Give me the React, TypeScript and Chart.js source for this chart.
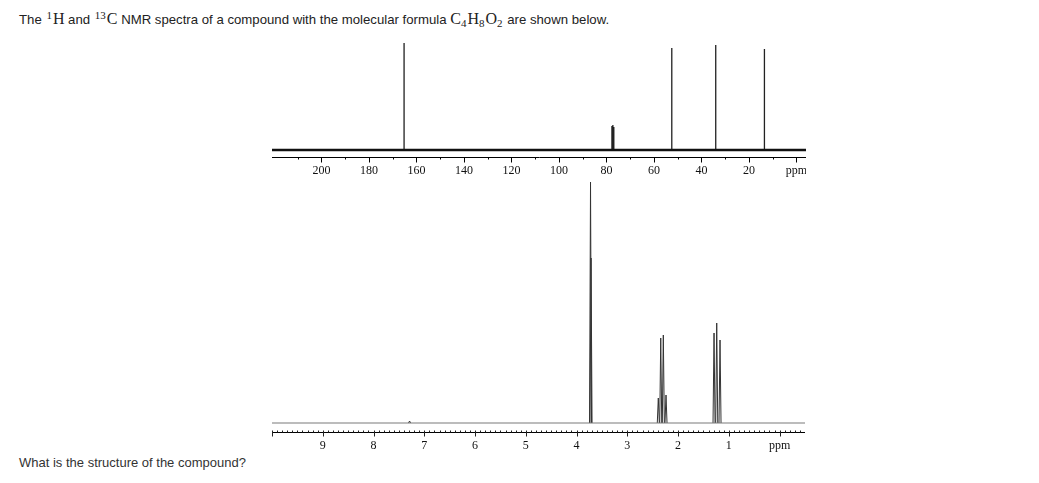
import React, { useEffect, useRef } from 'react';
import { Chart, registerables } from 'chart.js';

Chart.register(...registerables);

// ---------- 13C spectrum data ----------
const cPeakPpm = [165.2, 77.7, 77.3, 76.9, 52.5, 34.0, 13.5];
const cPeakHeight = [107, 24, 25, 23, 102, 105, 101];
const cTickValues = [200, 180, 160, 140, 120, 100, 80, 60, 40, 20, 0];
const cTickLabels = ['200', '180', '160', '140', '120', '100', '80', '60', '40', '20', 'ppm'];
const cMinorTicks = [210, 190, 170, 150, 130, 110, 90, 70, 50, 30, 10];
const cRange = [-4, 220.8];

// ---------- 1H spectrum data ----------
const hPeakPpm = [7.29, 3.725, 3.715, 2.39, 2.342, 2.291, 2.238, 1.292, 1.239, 1.174];
const hPeakHeight = [2, 241, 165, 25, 85, 88, 28, 90, 100, 83];
const hTickValues = [9, 8, 7, 6, 5, 4, 3, 2, 1, 0];
const hTickLabels = ['9', '8', '7', '6', '5', '4', '3', '2', '1', 'ppm'];
const hRange = [-0.5, 10];

const SERIF = '"Liberation Serif", "DejaVu Serif", serif';
const SANS = '"Liberation Sans", Arial, sans-serif';

const tickPlugin = {
  id: 'nmrTicks',
  afterDatasetsDraw(chart: any, _args: any, opts: any) {
    const sx = chart.scales.x;
    const ctx = chart.ctx;
    const y0 = Math.round(chart.chartArea.bottom) + 0.5;
    ctx.save();
    ctx.strokeStyle = opts.color || '#000';
    ctx.lineWidth = 1;
    const draw = (vals: number[], up: number, down: number) => {
      for (const v of vals) {
        const px = Math.round(sx.getPixelForValue(v)) + 0.5;
        ctx.beginPath();
        ctx.moveTo(px, y0 - up);
        ctx.lineTo(px, y0 + down);
        ctx.stroke();
      }
    };
    draw(opts.minor || [], opts.minorUp || 0, opts.minorDown || 0);
    draw(opts.major || [], opts.majorUp || 0, opts.majorDown || 0);
    ctx.restore();
  },
};

function stickData(ppm: number[], h: number[]) {
  const out: any[] = [];
  ppm.forEach((p, i) => {
    out.push({ x: p, y: 0 }, { x: p, y: h[i] }, { x: p, y: null });
  });
  return out;
}

function triData(ppm: number[], h: number[], half: number) {
  const out: any[] = [];
  ppm.forEach((p, i) => {
    out.push({ x: p + half, y: 0 }, { x: p, y: h[i] }, { x: p - half, y: 0 }, { x: p, y: null });
  });
  return out;
}

function xScale(range: number[], values: number[], labels: string[]) {
  return {
    type: 'linear',
    min: range[0],
    max: range[1],
    reverse: true,
    grid: { display: false, drawTicks: false, tickLength: 0 },
    border: { display: true, color: '#000', width: 1 },
    afterBuildTicks: (s: any) => {
      s.ticks = values.map((v) => ({ value: v }));
    },
    afterFit: (s: any) => {
      s.height = 24;
      s.paddingLeft = 0;
      s.paddingRight = 0;
    },
    ticks: {
      autoSkip: false,
      maxRotation: 0,
      minRotation: 0,
      padding: 7,
      color: '#111',
      font: { family: SERIF, size: 12 },
      callback: (v: number) => {
        const i = values.indexOf(v);
        return i >= 0 ? labels[i] : '';
      },
    },
  };
}

export default function App() {
  const cRef = useRef<HTMLCanvasElement>(null);
  const hRef = useRef<HTMLCanvasElement>(null);

  useEffect(() => {
    const hMinor: number[] = [];
    for (let k = -5; k <= 100; k++) {
      if (k % 10 !== 0) hMinor.push(k / 10);
    }
    const c = new Chart(cRef.current as HTMLCanvasElement, {
      type: 'line',
      data: {
        datasets: [
          {
            data: [
              { x: cRange[1], y: 0 },
              { x: cRange[0], y: 0 },
            ],
            borderColor: '#111',
            borderWidth: 2.6,
            pointRadius: 0,
          },
          {
            data: stickData(cPeakPpm, cPeakHeight),
            borderColor: '#222',
            borderWidth: 1.3,
            pointRadius: 0,
            spanGaps: false,
          },
        ],
      },
      options: {
        animation: false,
        responsive: false,
        devicePixelRatio: 1,
        layout: { padding: 0 },
        plugins: {
          legend: { display: false },
          tooltip: { enabled: false },
          nmrTicks: {
            major: cTickValues,
            minor: cMinorTicks,
            majorUp: 0,
            majorDown: 5,
            minorUp: 0,
            minorDown: 2,
          },
        } as any,
        scales: {
          x: xScale(cRange, cTickValues, cTickLabels) as any,
          y: { display: false, min: -7, max: 112 },
        },
      },
      plugins: [tickPlugin as any],
    });

    const h = new Chart(hRef.current as HTMLCanvasElement, {
      type: 'line',
      data: {
        datasets: [
          {
            data: [
              { x: hRange[1], y: 0 },
              { x: hRange[0], y: 0 },
            ],
            borderColor: '#7a7a7a',
            borderWidth: 1.2,
            pointRadius: 0,
          },
          {
            data: triData(hPeakPpm, hPeakHeight, 0.02),
            borderColor: '#333',
            borderWidth: 1,
            pointRadius: 0,
            spanGaps: false,
          },
        ],
      },
      options: {
        animation: false,
        responsive: false,
        devicePixelRatio: 1,
        layout: { padding: 0 },
        plugins: {
          legend: { display: false },
          tooltip: { enabled: false },
          nmrTicks: {
            major: [10, ...hTickValues],
            minor: hMinor,
            majorUp: 2,
            majorDown: 4,
            minorUp: 2,
            minorDown: 0,
            color: '#222',
          },
        } as any,
        scales: {
          x: xScale(hRange, hTickValues, hTickLabels) as any,
          y: { display: false, min: -9, max: 245 },
        },
      },
      plugins: [tickPlugin as any],
    });

    return () => {
      c.destroy();
      h.destroy();
    };
  }, []);

  const mathStyle: React.CSSProperties = { fontFamily: SERIF, fontSize: 16 };
  const supStyle: React.CSSProperties = { fontFamily: SERIF, fontSize: 11, verticalAlign: 5, marginLeft: 1, marginRight: 1 };
  const subStyle: React.CSSProperties = { fontFamily: SERIF, fontSize: 11, verticalAlign: -3, marginRight: 1 };

  return (
    <div
      style={{
        position: 'fixed',
        left: 0,
        top: 0,
        width: 1039,
        height: 483,
        background: '#fff',
        overflow: 'hidden',
      }}
    >
      <div
        style={{
          position: 'absolute',
          left: 19,
          top: 6,
          fontFamily: SANS,
          fontSize: 13.2,
          lineHeight: '18px',
          color: '#222',
          whiteSpace: 'nowrap',
        }}
      >
        The <span style={supStyle}>1</span>
        <span style={mathStyle}>H</span> and <span style={supStyle}>13</span>
        <span style={mathStyle}>C</span> NMR spectra of a compound with the molecular formula{' '}
        <span style={mathStyle}>C</span>
        <span style={subStyle}>4</span>
        <span style={mathStyle}>H</span>
        <span style={subStyle}>8</span>
        <span style={mathStyle}>O</span>
        <span style={subStyle}>2</span> are shown below.
      </div>
      <canvas
        ref={cRef}
        width={534}
        height={143}
        style={{ position: 'absolute', left: 272, top: 38, width: 534, height: 143 }}
      />
      <canvas
        ref={hRef}
        width={533}
        height={278}
        style={{ position: 'absolute', left: 272, top: 178, width: 533, height: 278 }}
      />
      <div
        style={{
          position: 'absolute',
          left: 19,
          top: 455,
          fontFamily: SANS,
          fontSize: 13,
          lineHeight: '16px',
          color: '#333',
          whiteSpace: 'nowrap',
        }}
      >
        What is the structure of the compound?
      </div>
    </div>
  );
}
